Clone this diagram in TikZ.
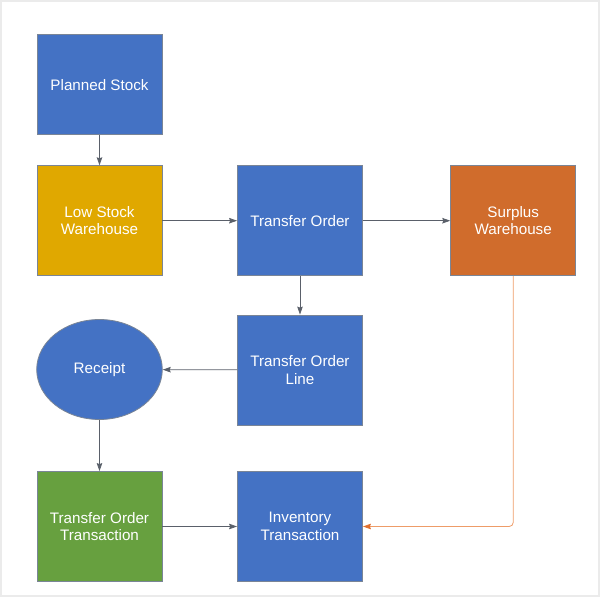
\documentclass[tikz,border=0pt]{standalone}
\usepackage{fontspec}
\setmainfont{Liberation Sans}
\usetikzlibrary{arrows.meta,shapes.geometric}
\definecolor{cblue}{HTML}{4472C4}
\definecolor{cgold}{HTML}{E0A800}
\definecolor{corange}{HTML}{D06C2C}
\definecolor{cgreen}{HTML}{67A03F}
\definecolor{cedge}{HTML}{7A8596}
\definecolor{carrow}{HTML}{5A606A}
\definecolor{cline}{HTML}{EE9C68}
\definecolor{ctip}{HTML}{E07030}
\definecolor{cframe}{HTML}{EBEBEB}
\begin{document}
\begin{tikzpicture}[x=1pt,y=-1pt,
  box/.style={draw=cedge,line width=0.8pt,minimum width=125pt,minimum height=110pt,inner sep=0pt,
    text=white,align=center,font=\fontsize{15.2}{17.7}\selectfont},
  oval/.style={box,ellipse,minimum width=125.6pt,minimum height=100pt},
  conn/.style={draw=carrow,line width=0.8pt,-{Stealth[length=8pt,width=5.5pt,inset=1pt]}},
  oconn/.style={draw=cline,line width=0.8pt,rounded corners=4pt,-{Stealth[length=8pt,width=5.5pt,inset=1pt,color=ctip]}}
]
\useasboundingbox (0,0) rectangle (600,597);
\draw[cframe,line width=2pt] (1,1) rectangle (599,596);
\node[box,fill=cblue,minimum height=100pt] (ps) at (99.5,84.7) {Planned Stock};
\node[box,fill=cgold] (lsw) at (99.5,220.7) {Low Stock\\Warehouse};
\node[box,fill=cblue] (to) at (300,220.7) {Transfer Order};
\node[box,fill=corange] (sw) at (513.2,220.7) {Surplus\\Warehouse};
\node[box,fill=cblue] (tol) at (300,370) {Transfer Order\\Line};
\node[oval,fill=cblue] (rc) at (99.5,369.5) {Receipt};
\node[box,fill=cgreen] (tot) at (99.5,526.5) {Transfer Order\\Transaction};
\node[box,fill=cblue] (it) at (300,526.5) {Inventory\\Transaction};
\draw[conn] (ps) -- (lsw);
\draw[conn] (lsw) -- (to);
\draw[conn] (to) -- (sw);
\draw[conn] (to) -- (tol);
\draw[conn] (tol) -- (rc);
\draw[conn] (rc) -- (tot);
\draw[conn] (tot) -- (it);
\draw[oconn] (sw.south) |- (it.east);
\end{tikzpicture}
\end{document}
